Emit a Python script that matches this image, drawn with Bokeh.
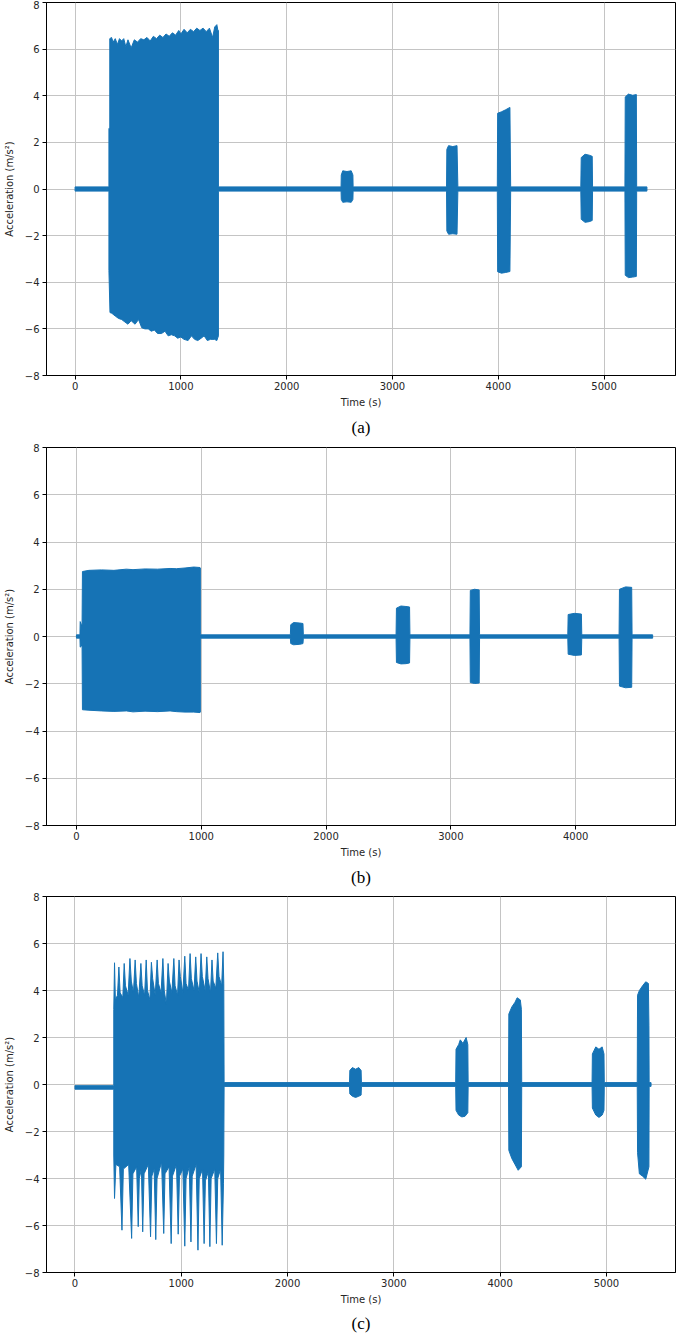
from bokeh.plotting import figure
from bokeh.layouts import column
from bokeh.models import Range1d, FixedTicker, Title, CustomJSTickFormatter
from bokeh.embed import file_html
from bokeh.resources import INLINE

BLUE = "#1673b5"

y_ticks = [-8, -6, -4, -2, 0, 2, 4, 6, 8]
x_ticks_a = [0, 1000, 2000, 3000, 4000, 5000]
x_ticks_b = [0, 1000, 2000, 3000, 4000]
x_ticks_c = [0, 1000, 2000, 3000, 4000, 5000]
captions = ["(a)", "(b)", "(c)"]
x_label = "Time (s)"
y_label = "Acceleration (m/s\u00b2)"

# ---------------- (a) envelope of the acceleration signal ----------------
a_up_t = [0, 320, 320, 328, 328,
          345, 360, 380, 400, 420, 440, 460, 480, 500, 530,
          560, 590, 620, 650, 680, 710, 740, 770, 800, 830,
          860, 890, 920, 950, 980, 1000, 1030, 1060, 1090, 1120,
          1150, 1180, 1210, 1240, 1270, 1300, 1320, 1340, 1350, 1355, 1355,
          2514, 2516, 2530, 2570, 2610, 2626, 2628,
          3511, 3514, 3530, 3570, 3610, 3618,
          3991, 3994, 4030, 4070, 4110, 4117,
          4780, 4784, 4820, 4860, 4888, 4891,
          5197, 5200, 5230, 5270, 5305, 5308,
          5405]
a_up_v = [0.09, 0.09, 2.6, 2.6, 6.45,
          6.5, 6.3, 6.45, 6.2, 6.45, 6.35, 6.45, 6.1, 6.4, 6.05,
          6.4, 6.3, 6.45, 6.4, 6.5, 6.35, 6.55, 6.45, 6.6, 6.5,
          6.65, 6.55, 6.7, 6.6, 6.8, 6.65, 6.85, 6.7, 6.85, 6.75,
          6.9, 6.8, 6.9, 6.75, 6.9, 6.5, 6.95, 7.05, 6.8, 6.8, 0.09,
          0.09, 0.6, 0.78, 0.75, 0.78, 0.6, 0.09,
          0.09, 1.7, 1.86, 1.82, 1.86, 0.09,
          0.09, 3.25, 3.31, 3.4, 3.5, 0.09,
          0.09, 1.35, 1.49, 1.45, 1.4, 0.09,
          0.09, 3.95, 4.07, 4.02, 4.05, 0.09,
          0.09]
a_lo_t = [0, 320, 320, 330, 347,
          380, 410, 441, 470, 500, 530, 567, 600, 630, 660,
          692, 720, 750, 780, 817, 850, 880, 910, 942, 970,
          1000, 1030, 1068, 1100, 1130, 1160, 1192, 1220, 1250, 1280,
          1318, 1340, 1355, 1355,
          2514, 2516, 2530, 2570, 2610, 2626, 2628,
          3511, 3514, 3530, 3570, 3610, 3618,
          3991, 3994, 4030, 4070, 4110, 4117,
          4780, 4784, 4820, 4860, 4888, 4891,
          5197, 5200, 5230, 5270, 5305, 5308,
          5405]
a_lo_v = [-0.09, -0.09, -3.5, -5.3, -5.33,
          -5.45, -5.55, -5.6, -5.7, -5.8, -5.65, -5.8, -5.6, -5.95, -6.0,
          -6.0, -6.1, -6.05, -6.2, -6.2, -6.1, -6.3, -6.25, -6.3, -6.4,
          -6.35, -6.45, -6.5, -6.3, -6.45, -6.5, -6.4, -6.3, -6.5, -6.45,
          -6.45, -6.5, -6.3, -0.09,
          -0.09, -0.45, -0.57, -0.55, -0.57, -0.45, -0.09,
          -0.09, -1.8, -1.94, -1.92, -1.94, -0.09,
          -0.09, -3.55, -3.61, -3.58, -3.54, -0.09,
          -0.09, -1.3, -1.43, -1.4, -1.35, -0.09,
          -0.09, -3.7, -3.8, -3.78, -3.75, -0.09,
          -0.09]

# ---------------- (b) ----------------
b_t = [0, 28, 30, 40, 45,
       48, 100, 200, 300, 400, 453, 550, 650, 750, 801,
       870, 940, 990, 993, 993,
       1714, 1717, 1740, 1790, 1815, 1818,
       2561, 2564, 2600, 2640, 2669, 2672,
       3153, 3156, 3190, 3227, 3230,
       3937, 3940, 3990, 4046, 4049,
       4348, 4351, 4400, 4449, 4452,
       4617]
b_up_v = [0.07, 0.07, 0.63, 0.5, 0.5,
          2.75, 2.8, 2.82, 2.8, 2.85, 2.83, 2.86, 2.85, 2.88, 2.87,
          2.9, 2.94, 2.92, 2.9, 0.07,
          0.07, 0.5, 0.59, 0.57, 0.55, 0.07,
          0.07, 1.2, 1.29, 1.27, 1.25, 0.07,
          0.07, 1.95, 2.0, 1.97, 0.07,
          0.07, 0.93, 0.98, 0.95, 0.07,
          0.07, 2.0, 2.1, 2.08, 0.07,
          0.07]
b_lo_v = [-0.07, -0.07, -0.45, -0.4, -0.4,
          -3.1, -3.12, -3.15, -3.17, -3.15, -3.19, -3.16, -3.18, -3.15, -3.18,
          -3.2, -3.2, -3.22, -3.2, -0.07,
          -0.07, -0.3, -0.35, -0.33, -0.3, -0.07,
          -0.07, -1.1, -1.16, -1.15, -1.12, -0.07,
          -0.07, -1.95, -1.99, -1.97, -0.07,
          -0.07, -0.75, -0.8, -0.78, -0.07,
          -0.07, -2.1, -2.17, -2.15, -0.07,
          -0.07]

# ---------------- (c) ----------------
c_up_t = [0, 365, 365,
          372, 380, 400,  413, 425, 450,  463, 475, 500,  517, 530, 550,
          566, 578, 600,  620, 632, 655,  670, 682, 705,  719, 731, 755,
          773, 785, 810,  827, 840, 860,  876, 888, 912,  930, 942, 965,
          979, 991, 1015,  1033, 1045, 1068,  1083, 1095, 1120,  1136, 1148, 1170,
          1186, 1198, 1225,  1240, 1252, 1275,  1289, 1300, 1325,  1343, 1355, 1380,
          1393, 1400, 1403,
          2583, 2586, 2610, 2640, 2670, 2692, 2695,
          3582, 3585, 3610, 3625, 3650, 3680, 3696, 3699,
          4079, 4082, 4110, 4140, 4160, 4190, 4200, 4203,
          4865, 4868, 4900, 4930, 4960, 4977, 4980,
          5290, 5293, 5310, 5340, 5370, 5395, 5400, 5402,
          5420]
c_up_v = [-0.05, -0.05, 3.2,
          5.18, 3.6, 3.8,  5.0, 3.9, 3.7,  5.15, 4.2, 3.8,  5.36, 4.4, 3.9,
          5.3, 4.3, 3.7,  5.15, 4.2, 3.8,  5.3, 4.0, 3.6,  5.2, 4.5, 3.8,
          5.3, 4.3, 3.9,  5.36, 4.0, 3.4,  5.15, 4.4, 3.9,  5.36, 4.2, 3.8,
          5.3, 4.6, 3.9,  5.46, 4.3, 4.0,  5.57, 4.5, 4.0,  5.43, 4.4, 3.9,
          5.57, 4.6, 4.0,  5.43, 4.5, 3.9,  5.3, 4.4, 4.1,  5.6, 4.6, 4.2,
          5.65, 4.3, 0.08,
          0.08, 0.6, 0.72, 0.65, 0.72, 0.6, 0.08,
          0.08, 1.5, 1.7, 1.9, 1.75, 2.0, 1.7, 0.08,
          0.08, 3.0, 3.3, 3.5, 3.69, 3.6, 3.2, 0.08,
          0.08, 1.3, 1.6, 1.5, 1.6, 1.3, 0.08,
          0.08, 3.8, 4.0, 4.2, 4.37, 4.3, 2.5, 0.08,
          0.08]
c_lo_t = [0, 365, 365,
          372, 385, 420,  442, 455, 505,  533, 545, 580,  595, 605, 625,
          637, 650, 690,  711, 723, 745,  760, 772, 815,  835, 847, 885,
          905, 917, 955,  971, 983, 1015,  1033, 1045, 1075,  1091, 1103, 1140,
          1157, 1169, 1200,  1215, 1227, 1255,  1269, 1281, 1315,  1331, 1343, 1370,
          1385, 1397, 1400,
          1403,
          2583, 2586, 2610, 2640, 2670, 2692, 2695,
          3582, 3585, 3610, 3640, 3670, 3696, 3699,
          4079, 4082, 4110, 4140, 4170, 4200, 4203,
          4865, 4868, 4900, 4930, 4960, 4977, 4980,
          5290, 5293, 5310, 5340, 5370, 5400, 5402,
          5420]
c_lo_v = [-0.2, -0.2, -3.0,
          -4.85, -3.4, -3.5,  -6.2, -3.6, -3.4,  -6.55, -3.8, -3.5,  -6.05, -4.0, -3.6,
          -6.27, -3.8, -3.4,  -6.48, -3.9, -3.6,  -6.6, -4.0, -3.3,  -6.34, -3.8, -3.5,
          -6.77, -3.9, -3.4,  -6.37, -3.9, -3.6,  -6.88, -4.0, -3.5,  -6.7, -3.9, -3.4,
          -7.05, -4.0, -3.6,  -6.77, -4.1, -3.7,  -6.9, -4.0, -3.6,  -6.77, -4.0, -3.6,
          -6.84, -4.2, -3.0,
          -0.08,
          -0.08, -0.4, -0.5, -0.55, -0.5, -0.45, -0.08,
          -0.08, -1.1, -1.3, -1.38, -1.35, -1.2, -0.08,
          -0.08, -2.8, -3.15, -3.4, -3.65, -3.5, -0.08,
          -0.08, -1.0, -1.3, -1.4, -1.3, -1.1, -0.08,
          -0.08, -2.9, -3.8, -3.9, -4.03, -3.5, -0.08,
          -0.08]

TEXT = "#262626"
FONT = "DejaVu Sans"


def make_panel(up_t, up_v, lo_t, lo_v, x_start, x_end, x_ticks, caption,
               height, border_top, border_bottom, cap_standoff):
    p = figure(width=685, height=height, title=None,
               x_range=Range1d(x_start, x_end), y_range=Range1d(-8, 8),
               output_backend="svg", toolbar_location=None,
               min_border_left=44, min_border_right=10,
               min_border_top=border_top, min_border_bottom=border_bottom,
               background_fill_color="white", border_fill_color="white")
    xs = list(up_t) + list(lo_t)[::-1]
    ys = list(up_v) + list(lo_v)[::-1]
    p.patch(xs, ys, fill_color=BLUE, line_color=BLUE, line_width=1)

    p.xaxis.ticker = FixedTicker(ticks=x_ticks)
    p.yaxis.ticker = FixedTicker(ticks=y_ticks)
    p.yaxis.formatter = CustomJSTickFormatter(
        code="return (tick < 0 ? '\u2212' : '') + Math.abs(tick);")
    p.xaxis.axis_label = x_label
    p.yaxis.axis_label = y_label
    for ax in (p.xaxis[0], p.yaxis[0]):
        ax.axis_line_color = "black"
        ax.major_tick_line_color = "black"
        ax.major_tick_in = 0
        ax.major_tick_out = 4
        ax.minor_tick_line_color = None
        ax.major_label_text_font = FONT
        ax.major_label_text_font_size = "10px"
        ax.major_label_text_color = TEXT
        ax.major_label_standoff = 2
        ax.axis_label_text_font = FONT
        ax.axis_label_text_font_size = "10px"
        ax.axis_label_text_font_style = "normal"
        ax.axis_label_text_color = TEXT
        ax.axis_label_standoff = 4
    p.yaxis.major_label_standoff = 3
    p.yaxis.axis_label_standoff = 7
    p.grid.grid_line_color = "#c4c4c4"
    p.grid.grid_line_width = 1
    p.outline_line_color = "black"
    p.outline_line_width = 1
    p.outline_line_alpha = 1

    cap = Title(text=caption, align="center", text_font="Liberation Serif",
                text_font_size="17px", text_font_style="normal",
                text_color="black", standoff=cap_standoff)
    p.add_layout(cap, "below")
    return p


pa = make_panel(a_up_t, a_up_v, a_lo_t, a_lo_v, -270, 5675, x_ticks_a,
                captions[0], 441, 2, 64, 10)
pb = make_panel(b_t, b_up_v, b_t, b_lo_v, -240, 4800, x_ticks_b,
                captions[1], 450, 6, 64, 10)
pc = make_panel(c_up_t, c_up_v, c_lo_t, c_lo_v, -268, 5650, x_ticks_c,
                captions[2], 446, 5, 64, 9)

layout = column(pa, pb, pc, spacing=0)

with open("out.html", "w", encoding="utf-8") as f:
    f.write(file_html(layout, INLINE))
